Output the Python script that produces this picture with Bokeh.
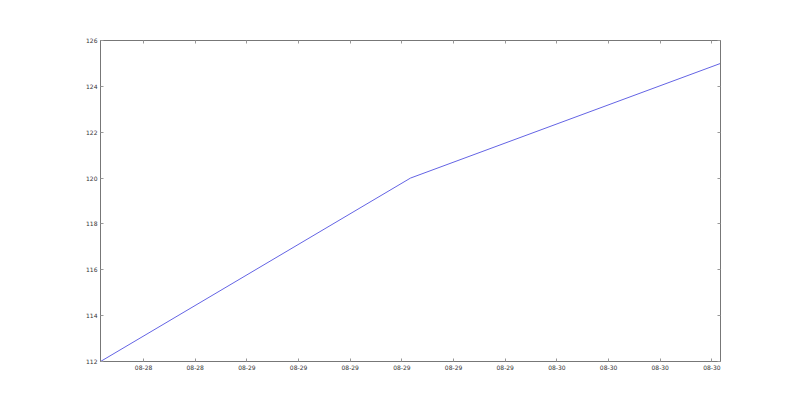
import pandas as pd
from bokeh.plotting import figure
from bokeh.models import (FixedTicker, DatetimeTickFormatter, DatetimeAxis, LinearAxis,
                          Range1d, ColumnDataSource, CustomJSTickFormatter)
from bokeh.embed import file_html
from bokeh.resources import INLINE

# data
dates = ["2015-08-28 12:40", "2015-08-29 12:40", "2015-08-30 12:40"]
values = [112, 120, 125]
x_ticks = ["2015-08-28 16:00", "2015-08-28 20:00", "2015-08-29 00:00", "2015-08-29 04:00",
           "2015-08-29 08:00", "2015-08-29 12:00", "2015-08-29 16:00", "2015-08-29 20:00",
           "2015-08-30 00:00", "2015-08-30 04:00", "2015-08-30 08:00", "2015-08-30 12:00"]
y_ticks = [112, 114, 116, 118, 120, 122, 124, 126]

xs = pd.to_datetime(dates)
tick_ms = [pd.Timestamp(t).value // 10**6 for t in x_ticks]
src = ColumnDataSource(dict(x=xs, y=values))

p = figure(width=784, height=385, output_backend="svg", toolbar_location=None,
           x_axis_type="datetime",
           x_range=Range1d(xs[0], xs[-1]), y_range=Range1d(112, 126),
           min_border_left=100, min_border_right=64, min_border_top=40, min_border_bottom=24)
p.grid.visible = False
frame = "#777777"
p.outline_line_color = frame
p.outline_line_width = 1
p.background_fill_color = "white"
p.border_fill_color = "white"

p.line("x", "y", source=src, line_color="#6464e4", line_width=1)

font = "DejaVu Sans"
for ax in p.xaxis:
    ax.ticker = FixedTicker(ticks=tick_ms)
    ax.formatter = DatetimeTickFormatter(hours="%m-%d", days="%m-%d", hourmin="%m-%d", minutes="%m-%d")
for ax in p.yaxis:
    ax.ticker = FixedTicker(ticks=y_ticks)

for ax in list(p.xaxis) + list(p.yaxis):
    ax.major_tick_in = 3
    ax.major_tick_out = 0
    ax.minor_tick_line_color = None
    ax.axis_line_color = frame
    ax.major_tick_line_color = "#999999"
    ax.major_label_text_font = font
    ax.major_label_text_font_size = "6px"
    ax.major_label_text_color = "#333333"
    ax.major_label_standoff = 3

blank = CustomJSTickFormatter(code="return ''")
top = DatetimeAxis(ticker=FixedTicker(ticks=tick_ms), formatter=blank, major_label_standoff=0,
                   major_tick_in=3, major_tick_out=0, minor_tick_line_color=None,
                   axis_line_color=frame, major_tick_line_color="#999999")
right = LinearAxis(ticker=FixedTicker(ticks=y_ticks), formatter=blank, major_label_standoff=0,
                   major_tick_in=3, major_tick_out=0, minor_tick_line_color=None,
                   axis_line_color=frame, major_tick_line_color="#999999")
p.add_layout(top, "above")
p.add_layout(right, "right")

open("out.html", "w").write(file_html(p, INLINE))
